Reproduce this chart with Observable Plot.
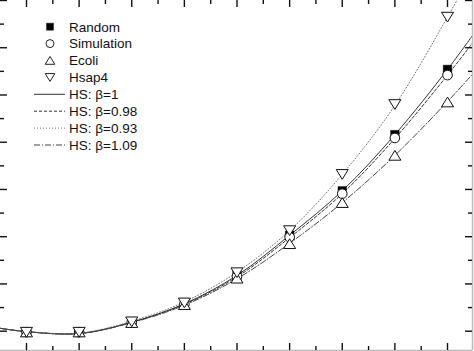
<!DOCTYPE html>
<html><head><meta charset="utf-8">
<script src="https://cdn.jsdelivr.net/npm/d3@7"></script>
<script src="https://cdn.jsdelivr.net/npm/@observablehq/plot@0.6"></script>
<style>
html,body{margin:0;padding:0;background:#fff;}
#wrap{position:relative;width:474px;height:351px;overflow:hidden;}
#legend{position:absolute;left:0;top:0;pointer-events:none;}
</style></head><body><div id="wrap"></div>
<script>
// ---- data (arbitrary units) ----
const xPoints    = [1, 2, 3, 4, 5, 6, 7, 8, 9];
const random     = [-0.02, -0.02, 0.19, 0.58, 1.18, 2.03, 2.97, 4.16, 5.54];
const simulation = [-0.02, -0.02, 0.19, 0.57, 1.16, 1.99, 2.91, 4.09, 5.42];
const ecoli      = [-0.02, -0.02, 0.18, 0.56, 1.12, 1.85, 2.72, 3.72, 4.85];
const hsap4      = [-0.02, -0.02, 0.20, 0.60, 1.24, 2.13, 3.32, 4.80, 6.65];

const curveX     = [0.506, 1, 2, 3, 4, 5, 6, 7, 8, 9, 9.475];
const hsBeta1    = [0.06, -0.01, -0.05, 0.19, 0.58, 1.18, 2.03, 2.97, 4.16, 5.54, 6.26];
const hsBeta098  = [0.06, -0.01, -0.05, 0.19, 0.57, 1.15, 1.98, 2.91, 4.08, 5.42, 6.10];
const hsBeta093  = [0.06, -0.01, -0.04, 0.21, 0.62, 1.25, 2.13, 3.32, 4.78, 6.65, 7.60];
const hsBeta109  = [0.06, -0.01, -0.05, 0.18, 0.55, 1.11, 1.86, 2.72, 3.72, 4.86, 5.44];

const xDomain = [0.506, 9.475];
const yDomain = [-0.409, 7.0];
const xMajorTicks = [1, 2, 3, 4, 5, 6, 7, 8, 9];
const xMinorTicks = [1.5, 2.5, 3.5, 4.5, 5.5, 6.5, 7.5, 8.5];
const yMajorTicks = [0, 1, 2, 3, 4, 5, 6, 7];
const yMinorTicks = [0.5, 1.5, 2.5, 3.5, 4.5, 5.5, 6.5];

const seriesNames = ["Random", "Simulation", "Ecoli", "Hsap4"];
const curveNames  = ["HS: β=1", "HS: β=0.98", "HS: β=0.93", "HS: β=1.09"];

// ---- styles ----
const W = 474, H = 351, mR = 2, mB = 1;
const fw = W - mR, fh = H - mB;
const curveStyles = [
  {stroke: "#333", dash: null},
  {stroke: "#333", dash: "3,2"},
  {stroke: "#777", dash: "1,2"},
  {stroke: "#444", dash: "6,2,1,2"}
];
const triUp = {draw(ctx, size) { const r = Math.sqrt(size / Math.PI); ctx.moveTo(0, -r); ctx.lineTo(r * 1.2, r * 0.95); ctx.lineTo(-r * 1.2, r * 0.95); ctx.closePath(); }};
const triDown = {draw(ctx, size) { const r = Math.sqrt(size / Math.PI); ctx.moveTo(0, r); ctx.lineTo(r * 1.2, -r * 0.95); ctx.lineTo(-r * 1.2, -r * 0.95); ctx.closePath(); }};

const pts = s => xPoints.map((x, i) => ({x, y: s[i]}));
const crv = s => curveX.map((x, i) => ({x, y: s[i]}));
const curves = [hsBeta1, hsBeta098, hsBeta093, hsBeta109];

const tickStyle = {stroke: "#111", strokeWidth: 1.4};
const chart = Plot.plot({
  width: W, height: H,
  marginLeft: 0, marginTop: 0, marginRight: mR, marginBottom: mB,
  x: {domain: xDomain, axis: null},
  y: {domain: yDomain, axis: null},
  style: {background: "#fff"},
  marks: [
    ...curves.map((c, i) => Plot.line(crv(c), {x: "x", y: "y", curve: "catmull-rom", clip: true,
      stroke: curveStyles[i].stroke, strokeWidth: 1, strokeDasharray: curveStyles[i].dash})),
    Plot.dot(pts(random), {x: "x", y: "y", symbol: "square", r: 4.8, fill: "#000", stroke: "#000", strokeWidth: 0.5}),
    Plot.dot(pts(simulation), {x: "x", y: "y", symbol: "circle", r: 4.8, fill: "#fff", stroke: "#111", strokeWidth: 1}),
    Plot.dot(pts(ecoli), {x: "x", y: "y", symbol: triUp, r: 5, fill: "#fff", stroke: "#111", strokeWidth: 1}),
    Plot.dot(pts(hsap4), {x: "x", y: "y", symbol: triDown, r: 5, fill: "#fff", stroke: "#111", strokeWidth: 1}),
    // frame edges
    Plot.ruleY([yDomain[0]], {stroke: "#bbb", strokeWidth: 1.5}),
    Plot.ruleX([xDomain[1]], {stroke: "#bbb", strokeWidth: 1.5}),
    // inward ticks
    Plot.tickX(xMajorTicks, {x: d => d, insetTop: fh - 7, ...tickStyle}),
    Plot.tickX(xMinorTicks, {x: d => d, insetTop: fh - 4, ...tickStyle}),
    Plot.tickX(xMajorTicks, {x: d => d, insetBottom: fh - 7, ...tickStyle}),
    Plot.tickX(xMinorTicks, {x: d => d, insetBottom: fh - 4, ...tickStyle}),
    Plot.tickY(yMajorTicks, {y: d => d, insetRight: fw - 7, ...tickStyle}),
    Plot.tickY(yMinorTicks, {y: d => d, insetRight: fw - 4, ...tickStyle}),
    Plot.tickY(yMajorTicks, {y: d => d, insetLeft: fw - 7, ...tickStyle}),
    Plot.tickY(yMinorTicks, {y: d => d, insetLeft: fw - 4, ...tickStyle})
  ]
});
const wrap = document.getElementById("wrap");
wrap.appendChild(chart);

// ---- legend overlay ----
const lg = d3.select(wrap).append("svg").attr("id", "legend").attr("width", W).attr("height", H)
  .style("font-family", "'Liberation Sans', Arial, Helvetica, sans-serif").style("font-size", "13.5px");
const rowY = i => 26.7 + i * 16.9;
const symX = 50, lineX1 = 34, lineX2 = 65, textX = 69;
const symPaths = [
  d3.symbol(d3.symbolSquare, 50)(),
  d3.symbol(d3.symbolCircle, 50)(),
  d3.symbol(triUp, Math.PI * 16)(),
  d3.symbol(triDown, Math.PI * 16)()
];
seriesNames.forEach((name, i) => {
  const g = lg.append("g");
  g.append("path").attr("d", symPaths[i]).attr("transform", `translate(${symX},${rowY(i)})`)
    .attr("fill", i === 0 ? "#000" : "#fff").attr("stroke", "#222").attr("stroke-width", i === 0 ? 0.5 : 1);
  g.append("text").attr("x", textX).attr("y", rowY(i)).attr("dy", "0.36em").attr("fill", "#111").text(name);
});
curveNames.forEach((name, j) => {
  const i = j + 4;
  lg.append("line").attr("x1", lineX1).attr("x2", lineX2).attr("y1", rowY(i)).attr("y2", rowY(i))
    .attr("stroke", curveStyles[j].stroke).attr("stroke-width", 1).attr("stroke-dasharray", curveStyles[j].dash);
  lg.append("text").attr("x", textX).attr("y", rowY(i)).attr("dy", "0.36em").attr("fill", "#111").text(name);
});
</script></body></html>
